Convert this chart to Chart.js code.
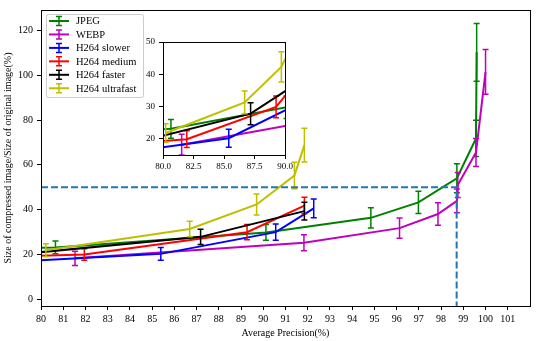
<!DOCTYPE html>
<html>
<head>
<meta charset="utf-8">
<script src="https://cdn.jsdelivr.net/npm/chart.js@4"></script>
<style>
  body { margin: 0; background: #fff; }
  #wrap { position: relative; width: 550px; height: 341px; }
  #main { position: absolute; left: 0; top: 0; }
  #inset { position: absolute; left: 130px; top: 30px; }
</style>
</head>
<body>
<div id="wrap">
  <canvas id="main" width="550" height="341"></canvas>
  <canvas id="inset" width="165" height="150"></canvas>
</div>
<script>
// series (x = AP %, y = size %, err = half error bar)
const seriesNames = ['JPEG', 'WEBP', 'H264 slower', 'H264 medium', 'H264 faster', 'H264 ultrafast'];
const seriesColors = ['#008000', '#bf00bf', '#0000ff', '#ff0000', '#000000', '#bfbf00'];

const jpegX = [79.5, 80.65, 90.12, 94.84, 96.98, 98.71, 99.57, 99.6];
const jpegY = [22.9, 23.1, 29.8, 36.3, 43.2, 54.0, 71.8, 110.3];
const jpegErr = [2.9, 2.9, 3.5, 4.5, 5.0, 6.5, 8.1, 12.9];

const webpX = [81.53, 91.83, 96.13, 97.86, 98.71, 98.75, 99.57, 100.0];
const webpY = [18.2, 25.2, 31.7, 38.0, 43.9, 51.0, 65.5, 101.5];
const webpErr = [3.2, 3.6, 4.5, 5.0, 5.3, 5.6, 6.3, 10.0];

const slowerX = [79.3, 85.39, 90.56, 92.27];
const slowerY = [17.0, 20.2, 29.9, 40.5];
const slowerErr = [2.0, 2.8, 3.6, 4.2];

const mediumX = [79.5, 81.95, 89.27, 91.85];
const mediumY = [19.2, 19.9, 29.9, 41.8];
const mediumErr = [2.5, 2.6, 3.4, 3.7];

const fasterX = [79.6, 87.18, 91.85];
const fasterY = [20.6, 27.8, 39.3];
const fasterErr = [3.0, 3.4, 4.0];

const ultraX = [80.22, 86.69, 89.7, 91.4, 91.85];
const ultraY = [21.8, 31.3, 42.3, 55.2, 68.8];
const ultraErr = [2.9, 3.5, 4.7, 5.9, 7.5];

// dashed reference at 50 %
const refX = [80, 98.7, 98.7];
const refY = [50, 50, -3.1];

const xTicks = [80, 81, 82, 83, 84, 85, 86, 87, 88, 89, 90, 91, 92, 93, 94, 95, 96, 97, 98, 99, 100, 101];
const yTicks = [0, 20, 40, 60, 80, 100, 120];
const insetXTicks = [80, 82.5, 85, 87.5, 90];
const insetYTicks = [20, 30, 40, 50];

const allX = [jpegX, webpX, slowerX, mediumX, fasterX, ultraX];
const allY = [jpegY, webpY, slowerY, mediumY, fasterY, ultraY];
const allErr = [jpegErr, webpErr, slowerErr, mediumErr, fasterErr, ultraErr];

const serif = 'Liberation Serif, Times New Roman, serif';

function buildDatasets(withRef) {
  const ds = seriesNames.map((name, i) => ({
    label: name,
    data: allX[i].map((x, j) => ({x: x, y: allY[i][j]})),
    errors: allErr[i],
    borderColor: seriesColors[i],
    backgroundColor: seriesColors[i],
    borderWidth: 2,
    pointRadius: 0,
    showLine: true,
    clip: 0,
    order: 20 - i
  }));
  if (withRef) {
    ds.push({
      label: 'ref',
      data: refX.map((x, j) => ({x: x, y: refY[j]})),
      borderColor: '#1f77b4',
      borderWidth: 2,
      borderDash: [7, 3],
      pointRadius: 0,
      showLine: true,
      clip: 0,
      order: 0
    });
  }
  return ds;
}

//error bars drawn with each dataset
const errorBars = {
  id: 'errorBars',
  afterDatasetDraw(chart, args) {
    const ds = chart.data.datasets[args.index];
    if (!ds.errors) return;
    const {ctx, chartArea: a} = chart;
    const xs = chart.scales.x, ys = chart.scales.y;
    ctx.save();
    ctx.beginPath();
    ctx.rect(a.left, a.top, a.right - a.left, a.bottom - a.top);
    ctx.clip();
    ctx.strokeStyle = ds.borderColor;
    ctx.lineWidth = 1.5;
    ds.data.forEach((p, i) => {
      const px = xs.getPixelForValue(p.x);
      const top = ys.getPixelForValue(p.y + ds.errors[i]);
      const bot = ys.getPixelForValue(p.y - ds.errors[i]);
      ctx.beginPath();
      ctx.moveTo(px, top); ctx.lineTo(px, bot);
      ctx.moveTo(px - 3, top); ctx.lineTo(px + 3, top);
      ctx.moveTo(px - 3, bot); ctx.lineTo(px + 3, bot);
      ctx.stroke();
    });
    ctx.restore();
  }
};

const frame = {
  id: 'frame',
  beforeDatasetsDraw(chart) {
    const {ctx, chartArea: a} = chart;
    ctx.save();
    ctx.fillStyle = '#fff';
    ctx.fillRect(a.left, a.top, a.right - a.left, a.bottom - a.top);
    ctx.restore();
  },
  afterDraw(chart) {
    const {ctx, chartArea: a} = chart;
    ctx.save();
    ctx.strokeStyle = '#000';
    ctx.lineWidth = 1;
    ctx.strokeRect(Math.round(a.left) + 0.5, Math.round(a.top) + 0.5, Math.round(a.right - a.left), Math.round(a.bottom - a.top));
    ctx.restore();
  }
};

// matplotlib style legend box, upper left
const boxLegend = {
  id: 'boxLegend',
  afterDraw(chart) {
    const ctx = chart.ctx;
    const a = chart.chartArea;
    const bx = a.left + 5, by = a.top + 4, bw = 97, bh = 83;
    ctx.save();
    ctx.fillStyle = 'rgba(255,255,255,0.85)';
    ctx.strokeStyle = '#cccccc';
    ctx.lineWidth = 1;
    ctx.beginPath();
    ctx.roundRect(bx + 0.5, by + 0.5, bw, bh, 2);
    ctx.fill();
    ctx.stroke();
    ctx.font = '10.5px ' + serif;
    ctx.textBaseline = 'middle';
    seriesNames.forEach((name, i) => {
      const cy = by + 7 + i * 13.45;
      ctx.strokeStyle = seriesColors[i];
      ctx.lineWidth = 2;
      ctx.beginPath();
      ctx.moveTo(bx + 3, cy); ctx.lineTo(bx + 23, cy);
      ctx.stroke();
      ctx.lineWidth = 1.5;
      ctx.beginPath();
      ctx.moveTo(bx + 13, cy - 4.5); ctx.lineTo(bx + 13, cy + 4.5);
      ctx.moveTo(bx + 10, cy - 4.5); ctx.lineTo(bx + 16, cy - 4.5);
      ctx.moveTo(bx + 10, cy + 4.5); ctx.lineTo(bx + 16, cy + 4.5);
      ctx.stroke();
      ctx.fillStyle = '#000';
      ctx.fillText(name, bx + 30, cy + 0.5);
    });
    ctx.restore();
  }
};

function axis(min, max, ticks, size, fontSize, pad, fmt, title) {
  const a = {
    type: 'linear',
    min: min,
    max: max,
    afterBuildTicks: ax => { ax.ticks = ticks.map(v => ({value: v})); },
    grid: {drawOnChartArea: false, drawTicks: true, tickLength: 4, color: '#000', lineWidth: 1},
    border: {display: false},
    ticks: {font: {family: serif, size: fontSize}, color: '#000', padding: pad, maxRotation: 0, autoSkip: false, callback: fmt},
    title: title ? {display: true, text: title, font: {family: serif, size: 10}, color: '#000', padding: {top: 2, bottom: 2}} : {display: false}
  };
  return a;
}

const mainX = axis(80, 102, xTicks, 35, 10, 3, v => String(v), 'Average Precision(%)');
mainX.afterFit = ax => { ax.height = 35; };
const mainY = axis(-3.1, 129.2, yTicks, 41, 10, 4, v => String(v), 'Size of compressed image/Size of original image(%)');
mainY.afterFit = ax => { ax.width = 41; };

new Chart(document.getElementById('main'), {
  type: 'scatter',
  data: {datasets: buildDatasets(true)},
  options: {
    responsive: false,
    animation: false,
    layout: {padding: {top: 5, right: 20, left: 0, bottom: 0}},
    scales: {x: mainX, y: mainY},
    plugins: {legend: {display: false}, tooltip: {enabled: false}}
  },
  plugins: [errorBars, frame, boxLegend]
});

const inX = axis(80, 90, insetXTicks, 25, 9, 2, v => v.toFixed(1), null);
inX.afterFit = ax => { ax.height = 25; };
const inY = axis(15, 50, insetYTicks, 33, 9, 4, v => String(v), null);
inY.afterFit = ax => { ax.width = 33; };

new Chart(document.getElementById('inset'), {
  type: 'scatter',
  data: {datasets: buildDatasets(false)},
  options: {
    responsive: false,
    animation: false,
    layout: {padding: {top: 12, right: 10, left: 0, bottom: 0}},
    scales: {x: inX, y: inY},
    plugins: {legend: {display: false}, tooltip: {enabled: false}}
  },
  plugins: [errorBars, frame]
});
</script>
</body>
</html>
